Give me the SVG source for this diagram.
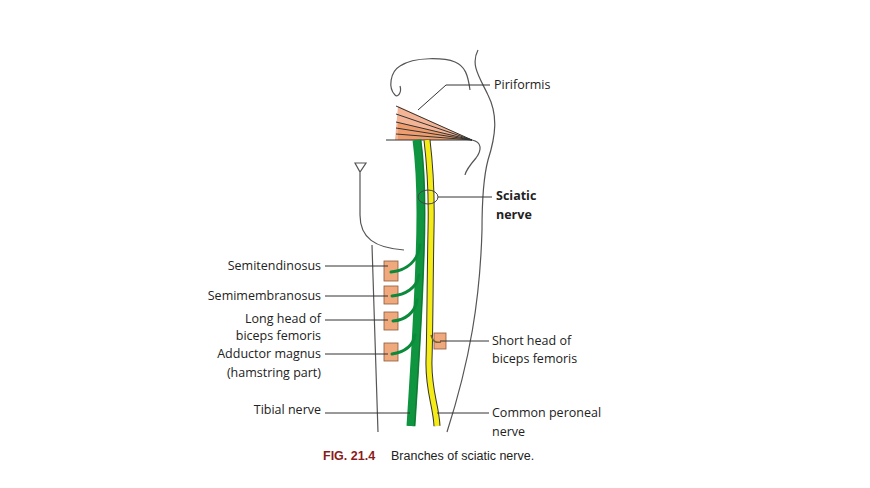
<svg xmlns="http://www.w3.org/2000/svg" width="870" height="488" viewBox="0 0 870 488">
<style>
.o{fill:none;stroke:#555;stroke-width:1.2}
.l{fill:none;stroke:#333;stroke-width:1}
.t{font-family:"Open Sans","Liberation Sans",sans-serif;font-size:12.5px;fill:#222}
.b{font-weight:bold}
.box{fill:#f0a97c;stroke:#8a5a3a;stroke-width:0.8}
.br{fill:none;stroke:#0c8a3c;stroke-width:3;stroke-linecap:round}
</style>
<rect width="870" height="488" fill="#fff"/>
<g id="outline">
<path class="o" d="M395,95 C388,88 390,72 400,66 C415,56 445,58 455,62 C465,66 468,75 470,90"/>
<path class="o" d="M395,95 C398,98 402,92 400,86"/>
<path class="o" d="M478,50 C470,65 480,78 488,95 C498,115 496,135 488,160 C484,175 482,200 482,230 C480,300 470,360 447,432"/>
<path class="o" d="M472,140 C482,142 482,150 476,158 C470,165 466,170 465,175"/>
<path class="o" d="M355,163 L366,163 L360,172 Z M360,172 L360,215 C360,238 375,248 404,250"/>
<path class="o" d="M372,245 C374,300 376,380 378,432"/>
</g>
<g id="piriformis">
<polygon points="398,106 472,140 395,140" fill="#f4b596"/>
<polygon points="398,122 472,140 398,140" fill="#ee9e6e"/>
<path class="l" d="M396,106 L472,140 M396,114 L472,140 M396,122 L472,140 M396,128 L472,140 M396,134 L472,140 M386,140 L472,140" stroke-width="0.7"/>
</g>
<g id="nerves">
<path d="M417,140 C421,170 422,210 420,260 C418,320 414,380 411,426" fill="none" stroke="#0f9440" stroke-width="9"/>
<path d="M427,140 C430,165 432,190 431,230 C430,280 430,330 429,360 C428,390 436,405 437,426" fill="none" stroke="#333" stroke-width="7"/>
<path d="M427,140 C430,165 432,190 431,230 C430,280 430,330 429,360 C428,390 436,405 437,426" fill="none" stroke="#f5ec16" stroke-width="5"/>
<path d="M417,140 C421,170 422,210 420,260 C418,320 414,380 411,426" fill="none" stroke="#0f9440" stroke-width="7"/>
<path d="M417,140 C421,170 422,210 420,260 C418,320 414,380 411,426" fill="none" stroke="#1a6a30" stroke-width="0.8" transform="translate(3.5,0)"/>
</g>
<g id="muscles">
<rect class="box" x="384" y="261" width="14" height="20"/>
<rect class="box" x="384" y="286" width="14" height="18"/>
<rect class="box" x="384" y="312" width="14" height="18"/>
<rect class="box" x="384" y="343" width="14" height="18"/>
<rect class="box" x="434" y="333" width="12" height="16"/>
<path class="br" d="M420,245 C418,260 408,270 391,272"/>
<path class="br" d="M419,275 C417,288 405,295 392,296"/>
<path class="br" d="M417,300 C415,313 405,320 393,321"/>
<path class="br" d="M415,335 C413,347 404,352 392,354"/>
<path d="M431,335 C433,342 436,343 441,342" fill="none" stroke="#776633" stroke-width="1.5"/>
</g>
<g id="connectors">
<path class="l" d="M418,110 L446,85 L490,85"/>
<ellipse cx="428" cy="197" rx="10" ry="7" fill="none" stroke="#444" stroke-width="1"/>
<path class="l" d="M438,197 L492,197"/>
<path class="l" d="M325,266 L388,266 M325,296 L388,296 M325,320 L388,320 M325,354 L388,354 M325,413 L410,413 M440,341 L489,341 M437,413 L489,413"/>
</g>
<g id="labels">
<text class="t" x="494" y="89">Piriformis</text>
<text class="t b" x="496" y="200">Sciatic</text>
<text class="t b" x="496" y="219">nerve</text>
<text class="t" x="321" y="270" text-anchor="end">Semitendinosus</text>
<text class="t" x="321" y="300" text-anchor="end">Semimembranosus</text>
<text class="t" x="321" y="323" text-anchor="end">Long head of</text>
<text class="t" x="321" y="340" text-anchor="end">biceps femoris</text>
<text class="t" x="321" y="358" text-anchor="end">Adductor magnus</text>
<text class="t" x="321" y="377" text-anchor="end">(hamstring part)</text>
<text class="t" x="321" y="414" text-anchor="end">Tibial nerve</text>
<text class="t" x="492" y="345">Short head of</text>
<text class="t" x="492" y="363">biceps femoris</text>
<text class="t" x="492" y="417">Common peroneal</text>
<text class="t" x="492" y="436">nerve</text>
<text x="323" y="460" font-family="Liberation Sans,Arial,sans-serif" font-size="12.5" fill="#8b1a1a" font-weight="bold">FIG. 21.4</text>
<text x="391" y="460" font-family="Liberation Sans,Arial,sans-serif" font-size="12.5" fill="#222">Branches of sciatic nerve.</text>
</g>
</svg>
